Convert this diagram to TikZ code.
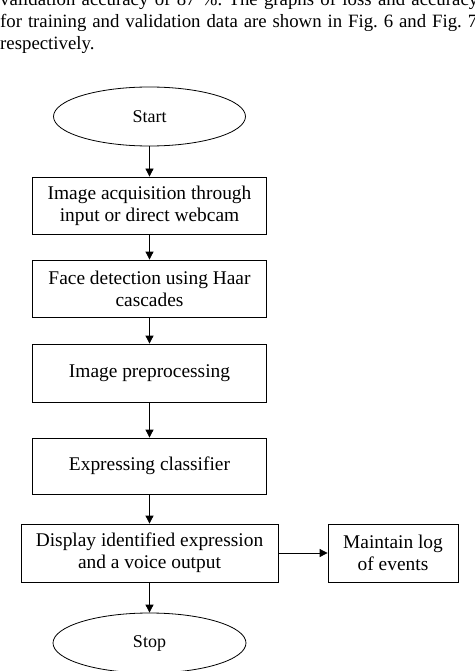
\documentclass[tikz,border=0pt]{standalone}
\usepackage{fontspec}
\setmainfont{Liberation Serif}
\usetikzlibrary{shapes.geometric, arrows.meta, positioning, calc}
\frenchspacing

\begin{document}
\begin{tikzpicture}[x=1pt, y=-1pt,
    box/.style={draw, line width=0.8pt, inner sep=0pt, minimum width=234pt, minimum height=57pt, align=center, font=\fontsize{19.4}{22}\selectfont},
    terminal/.style={draw, ellipse, line width=0.8pt, inner sep=0pt, minimum width=192pt, minimum height=59pt, font=\fontsize{18}{22}\selectfont},
    flow/.style={-{Triangle[length=8pt,width=8pt]}, line width=0.8pt},
    para/.style={anchor=base west, inner sep=0pt, font=\fontsize{18.8}{22}\selectfont}]
                \useasboundingbox (0,0) rectangle (474,671);

                % 正文
                \node[para] (line1) at (0,6) {\makebox[478pt][s]{validation accuracy of 87 \%. The graphs of loss and accuracy}};
                \node[para] (line2) at (0,28) {\makebox[477pt][s]{for training and validation data are shown in Fig. 6 and Fig. 7}};
                \node[para] (line3) at (0,50) {respectively.};

                % 流程框
                \node[terminal] (start) at (149.5,116.5) {Start};
                \node[box] (acq) at (149.5,205.5) {Image acquisition through\\input or direct webcam};
                \node[box] (face) at (149.5,288.5) {Face detection using Haar\\cascades};
                \node[box, minimum height=58pt] (prep) at (149.5,373) {Image preprocessing};
                \node[box, minimum height=56pt] (cls) at (149.5,466) {Expressing classifier};
                \node[box, minimum width=257pt, minimum height=58pt] (disp) at (149.5,553) {Display identified expression\\and a voice output};
                \node[box, minimum width=130pt, minimum height=58pt] (log) at (393,553) {Maintain log\\of events};
                \node[terminal, minimum width=193pt, minimum height=60pt] (stop) at (149.5,643) {Stop};

                % 箭头
                \draw[flow] (start.south) -- (acq.north);
                \draw[flow] (acq.south) -- (face.north);
                \draw[flow] (face.south) -- (prep.north);
                \draw[flow] (prep.south) -- (cls.north);
                \draw[flow] (cls.south) -- (disp.north);
                \draw[flow] (disp.east) -- (log.west);
                \draw[flow] (disp.south) -- (stop.north);
            \end{tikzpicture}
\end{document}
